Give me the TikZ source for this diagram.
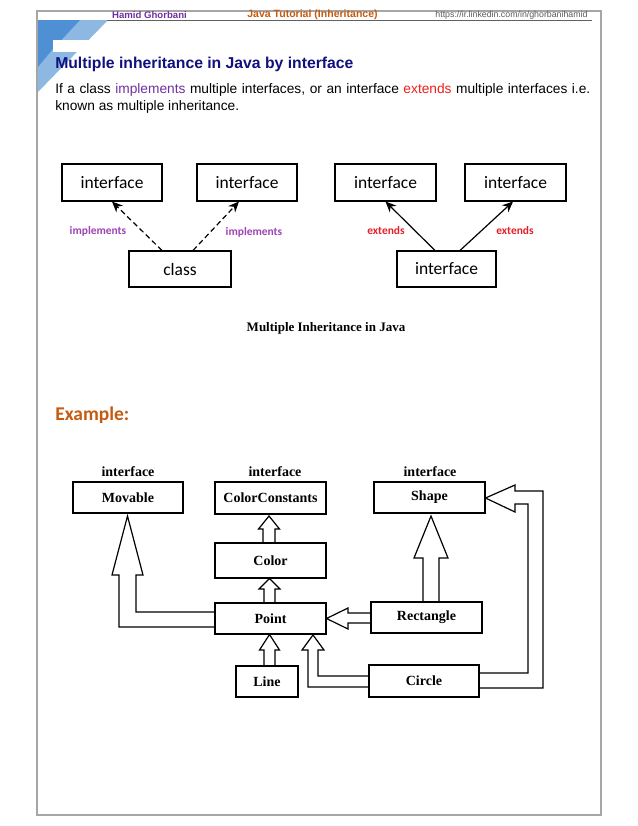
\documentclass[tikz,border=0pt]{standalone}
\usepackage{fontspec}
\setmainfont{Liberation Sans}
\newfontfamily\carlito{Carlito}
\newfontfamily\libserif{Liberation Serif}
\usetikzlibrary{arrows.meta,calc}
\newlength\pxu
\setlength\pxu{0.75pt}
\definecolor{blueA}{HTML}{8DB8E2}
\definecolor{blueB}{HTML}{4F8FD3}
\definecolor{bordergray}{HTML}{A6A6A6}
\definecolor{headgray}{HTML}{606060}
\definecolor{urlgray}{HTML}{595959}
\definecolor{navy}{HTML}{10107F}
\definecolor{purpleH}{HTML}{7030A0}
\definecolor{orangeH}{HTML}{C55A11}
\definecolor{purpleL}{HTML}{9E44B4}
\definecolor{redL}{HTML}{E3202A}
\definecolor{redT}{HTML}{F01E1E}
\tikzset{
  topbox/.style={draw, line width=0.8pt, inner sep=0pt, minimum width=100\pxu, minimum height=37\pxu,
    font=\carlito\fontsize{13.1}{15}\selectfont},
  toplabel/.style={inner sep=0pt, font=\carlito\bfseries\fontsize{8.6}{10}\selectfont},
  umlbox/.style={draw, line width=0.9pt, inner sep=0pt, minimum width=111\pxu, minimum height=31\pxu,
    font=\libserif\bfseries\fontsize{10.5}{12}\selectfont},
  umllabel/.style={inner sep=0pt, font=\libserif\bfseries\fontsize{10.5}{12}\selectfont},
  blockarr/.style={draw, line width=0.9pt, line join=miter},
  dasharr/.style={draw, line width=0.9pt, dash pattern=on 4pt off 2.5pt, -{Stealth[length=8pt,width=7pt]}},
  solidarr/.style={draw, line width=0.9pt, -{Stealth[length=8pt,width=7pt]}},
}
\begin{document}
\begin{tikzpicture}[x=0.75pt,y=-0.75pt]
\useasboundingbox (0,0) rectangle (638,826);
\fill[white] (0,0) rectangle (638,826);
% corner decoration
\fill[blueA] (37,20) -- (108,20) -- (37,93) -- cycle;
\fill[blueB] (37,20) -- (80,20) -- (52,50) -- (37,68) -- cycle;
\fill[white] (53,40) rectangle (102,52);
% page border
\draw[bordergray, line width=1.2pt] (37,11) rectangle (601,815);
% header
\draw[headgray, line width=1pt] (107,20.5) -- (592,20.5);
\node[inner sep=0pt, text=purpleH, font=\bfseries\fontsize{7.2}{8}\selectfont] (hname) at (149.5,15) {Hamid Ghorbani};
\node[inner sep=0pt, text=orangeH, font=\bfseries\fontsize{7.9}{9}\selectfont] (htitle) at (312.5,15) {Java Tutorial (Inheritance)};
\node[inner sep=0pt, text=urlgray, font=\fontsize{6.6}{8}\selectfont] (hurl) at (511.5,15) {https://ir.linkedin.com/in/ghorbanihamid};
% title and text
\node[inner sep=0pt, anchor=west, text=navy, font=\bfseries\fontsize{11.8}{14}\selectfont] (title) at (55,64) {Multiple inheritance in Java by interface};
\node[inner sep=0pt, anchor=west, font=\fontsize{10.3}{12}\selectfont] (body1) at (55,90)
  {\hbox to 401.25pt{If a class \textcolor{purpleH}{implements} multiple interfaces, or an interface \textcolor{redT}{extends} multiple interfaces i.e.}};
\node[inner sep=0pt, anchor=west, font=\fontsize{10.3}{12}\selectfont] (body2) at (55,107) {known as multiple inheritance.};
% top diagram
\node[topbox] (i1) at (112,182.5) {interface};
\node[topbox] (i2) at (247,182.5) {interface};
\node[topbox, minimum width=102\pxu, minimum height=36\pxu] (cls) at (180,269) {class};
\node[topbox, minimum width=101\pxu] (i3) at (385.5,182.5) {interface};
\node[topbox, minimum width=101\pxu] (i4) at (515.5,182.5) {interface};
\node[topbox, minimum width=99\pxu, minimum height=36\pxu] (i5) at (446.5,269) {interface};
\draw[dasharr] ($(cls.north)+(-18,0)$) -- (i1.south);
\draw[dasharr] ($(cls.north)+(13,0)$) -- ($(i2.south)+(-8,0)$);
\draw[solidarr] ($(i5.north)+(-11.5,0)$) -- (i3.south);
\draw[solidarr] ($(i5.north)+(13.5,0)$) -- ($(i4.south)+(-2.5,0)$);
\node[toplabel, text=purpleL] (l1) at (98,231) {implements};
\node[toplabel, text=purpleL] (l2) at (254,232) {implements};
\node[toplabel, text=redL] (l3) at (386,231) {extends};
\node[toplabel, text=redL] (l4) at (515,231) {extends};
\node[inner sep=0pt, font=\libserif\bfseries\fontsize{9.75}{11}\selectfont] (cap) at (326,328) {Multiple Inheritance in Java};
% Example
\node[inner sep=0pt, anchor=west, text=orangeH, font=\carlito\bfseries\fontsize{14.6}{17}\selectfont] (ex) at (55,415) {Example:};
% bottom diagram
\node[umlbox, minimum width=110\pxu] (mov) at (128,497.5) {Movable};
\node[umlbox, minimum height=32\pxu] (cc) at (270.5,498) {ColorConstants};
\node[umlbox] (shp) at (429.5,497.5) {Shape};
\node[umlbox, minimum height=35\pxu] (col) at (270.5,560.5) {Color};
\node[umlbox] (pt) at (270.5,618.5) {Point};
\node[umlbox] (rect) at (426.5,617.5) {Rectangle};
\node[umlbox, minimum width=62\pxu] (ln) at (267,681.5) {Line};
\node[umlbox, minimum width=110\pxu, minimum height=32\pxu] (circ) at (424,681) {Circle};
\node[umllabel] (if1) at (128,472) {interface};
\node[umllabel] (if2) at (275,472) {interface};
\node[umllabel] (if3) at (430,472) {interface};
% block arrows
% Color -> ColorConstants
\draw[blockarr] (275,543) -- (275,529) -- (279.5,529) -- (269,516) -- (258.5,529) -- (263,529) -- (263,543);
% Point -> Color
\draw[blockarr] (275,603) -- (275,589) -- (280,589) -- (269.5,578.5) -- (259,589) -- (264,589) -- (264,603);
% Line -> Point
\draw[blockarr] (275,666) -- (275,650) -- (279.5,650) -- (269.5,634.5) -- (259.5,650) -- (264,650) -- (264,666);
% Rectangle -> Shape
\draw[blockarr] (439,602) -- (439,558) -- (448,558) -- (431,516) -- (414,558) -- (423,558) -- (423,602);
% Point -> Movable
\draw[blockarr] (215,612) -- (136,612) -- (136,575) -- (143,575) -- (127.5,516) -- (112,575) -- (119,575) -- (119,627) -- (215,627);
% Rectangle -> Point
\draw[blockarr] (371,613) -- (348,613) -- (348,608) -- (326.5,618.5) -- (348,629) -- (348,623) -- (371,623);
% Circle -> Point
\draw[blockarr] (369,676) -- (318,676) -- (318,650) -- (324,650) -- (313,635) -- (302,650) -- (308,650) -- (308,687) -- (369,687);
% Circle -> Shape
\draw[blockarr] (479,673) -- (528,673) -- (528,504) -- (515,504) -- (515,512) -- (485.5,498) -- (515,485) -- (515,491) -- (543,491) -- (543,688) -- (479,688);
\end{tikzpicture}
\end{document}
